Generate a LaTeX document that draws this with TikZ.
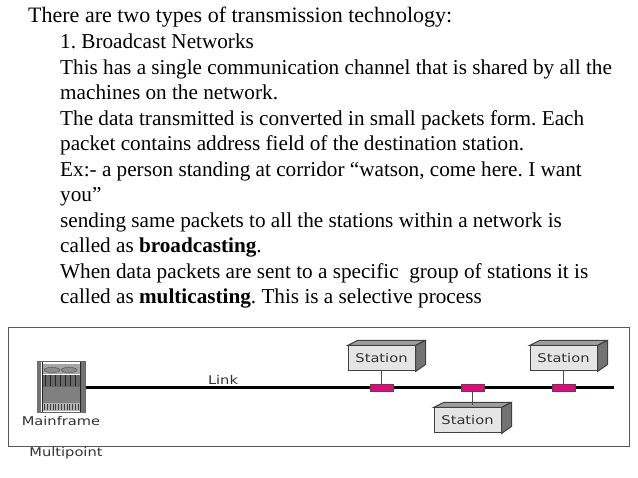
\documentclass[tikz,border=0pt]{standalone}
\usepackage{fontspec}
\setmainfont{Liberation Serif}
\newfontfamily\diagfont[FakeStretch=1.22]{DejaVu Sans}
\frenchspacing
\begin{document}
\begin{tikzpicture}[x=1pt,y=-1pt,
  txt/.style={anchor=base west,inner sep=0pt,font=\fontsize{21.2}{24}\selectfont,text=black},
  lab/.style={inner sep=0pt,font=\diagfont\fontsize{12}{13}\selectfont,text=black!80},
  stationbox/.style={draw=black!75,line width=1pt,fill=black!10,minimum width=67pt,minimum height=25pt,inner sep=0pt,font=\diagfont\fontsize{12}{13}\selectfont,text=black!80},
  tap/.style={draw=black!70,line width=0.6pt,fill=magenta!85!red,minimum width=23pt,minimum height=7pt,inner sep=0pt},
  stem/.style={draw=black!70,line width=1pt},
  link/.style={draw=black,line width=2.4pt}]
\useasboundingbox (0,0) rectangle (638,478);
\fill[white] (0,0) rectangle (638,478);
\node[txt,font=\fontsize{22}{24}\selectfont] (t1) at (28,23) {There are two types of transmission technology:};
\node[txt] (t2) at (60,48.6) {1. Broadcast Networks};
\node[txt] (t3) at (60,74.1) {This has a single communication channel that is shared by all the};
\node[txt] (t4) at (60,99.7) {machines on the network.};
\node[txt] (t5) at (60,125.2) {The data transmitted is converted in small packets form. Each};
\node[txt] (t6) at (60,150.8) {packet contains address field of the destination station.};
\node[txt] (t7) at (60,176.3) {Ex:- a person standing at corridor “watson, come here. I want};
\node[txt] (t8) at (60,201.9) {you”};
\node[txt] (t9) at (60,227.4) {sending same packets to all the stations within a network is};
\node[txt] (t10) at (60,253) {called as \textbf{broadcasting}.};
\node[txt] (t11) at (60,278.5) {When data packets are sent to a specific\ \ group of stations it is};
\node[txt] (t12) at (60,304) {called as \textbf{multicasting}. This is a selective process};
% frame
\draw[black!65,line width=1pt] (8,327.5) rectangle (629,446.5);
% mainframe
\node[draw=black!60,line width=1pt,fill=white,minimum width=48pt,minimum height=51pt,inner sep=0pt] (mf) at (61,387.5) {};
\fill[black!55] (37,362) rectangle (41,413);
\fill[black!55] (81,362) rectangle (85,413);
\fill[black!85] (42,362.5) rectangle (43,412.5);
\fill[black!85] (79.5,362.5) rectangle (80.5,412.5);
\fill[black!35] (43,364) rectangle (79.5,374);
\draw[black!70,fill=black!45] (52,370) ellipse (8 and 2.6);
\draw[black!70,fill=black!45] (69,370) ellipse (8 and 2.6);
\fill[black!60] (43,375) rectangle (79.5,387);
\foreach \i in {0,...,6}{\draw[black!85,line width=0.6pt] (45+5*\i,375.5) -- (45+5*\i,386.5);}
\fill[black!50] (43,387) rectangle (79.5,403);
\fill[black!30] (43,403) rectangle (79.5,411);
\foreach \i in {0,...,12}{\draw[black!75,line width=0.5pt] (44.5+2.8*\i,404) -- (44.5+2.8*\i,410);}
\node[lab,anchor=center] (mflabel) at (61,421.5) {Mainframe};
\node[lab,anchor=center] (mplabel) at (66,453.5) {Multipoint};
\node[lab,anchor=center] (linklabel) at (223,379.5) {Link};
% stations
\newcommand{\stationside}[1]{%
  \draw[black!75,line width=1pt,fill=black!38] (#1.north west) -- ++(10,-5) -- ++(67,0) -- (#1.north east) -- cycle;
  \draw[black!75,line width=1pt,fill=black!55] (#1.north east) -- ++(10,-5) -- ++(0,24) -- (#1.south east) -- cycle;}
\node[stationbox] (s1) at (381.5,358.5) {Station};
\stationside{s1}
\node[stationbox] (s3) at (563.5,358.5) {Station};
\stationside{s3}
\node[stationbox] (s2) at (467.5,420.5) {Station};
\stationside{s2}
\coordinate (linkend) at (614,387.5);
\draw[link] (mf.east) -- (linkend);
\node[tap] (tap1) at (381.5,387.5) {};
\node[tap] (tap2) at (472.5,387.5) {};
\node[tap] (tap3) at (563.5,387.5) {};
\draw[stem] (s1.south) -- (tap1.north);
\draw[stem] (s3.south) -- (tap3.north);
\coordinate (s2top) at (472.5,405.5);
\draw[stem] (tap2.south) -- (s2top);
\end{tikzpicture}
\end{document}
